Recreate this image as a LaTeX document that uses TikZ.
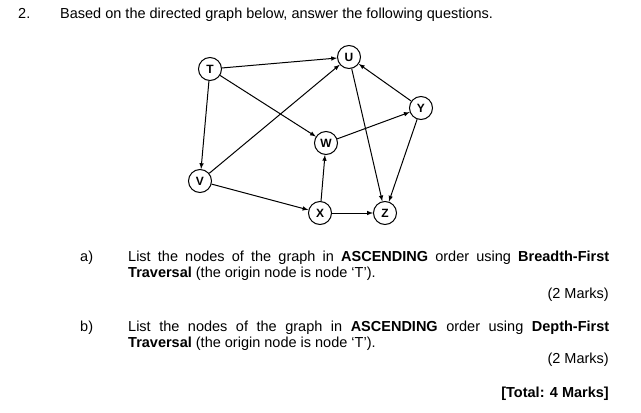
\documentclass[tikz,border=0pt]{standalone}
\usepackage{fontspec}
\setmainfont{Liberation Sans}
\begin{document}
\begin{tikzpicture}[x=1pt,y=-1pt,
 vtx/.style={circle,draw,line width=1pt,minimum size=23pt,inner sep=0pt,font=\fontsize{12}{12}\selectfont\bfseries},
 arr/.style={-latex,line width=1pt},
 txt/.style={anchor=north west,inner sep=0pt,font=\fontsize{14.5}{16}\selectfont},
 para/.style={txt,text width=481pt,align=justify,execute at begin node={\hyphenpenalty=10000\exhyphenpenalty=10000}}]
\useasboundingbox (0,0) rectangle (641,413);
\node[vtx] (T) at (210,69) {T};
\node[vtx] (U) at (349,57) {U};
\node[vtx] (Y) at (421,108) {Y};
\node[vtx] (W) at (326,143) {W};
\node[vtx] (V) at (200,181) {V};
\node[vtx] (X) at (320,213) {X};
\node[vtx] (Z) at (385,213) {Z};
\draw[arr] (T) -- (U);
\draw[arr] (T) -- (W);
\draw[arr] (T) -- (V);
\draw[arr] (V) -- (U);
\draw[arr] (V) -- (X);
\draw[arr] (X) -- (W);
\draw[arr] (X) -- (Z);
\draw[arr] (W) -- (Y);
\draw[arr] (Y) -- (U);
\draw[arr] (Y) -- (Z);
\draw[arr] (U) -- (Z);
\node[txt] (n2) at (18,8) {2.};
\node[txt] (q) at (60,8) {Based on the directed graph below, answer the following questions.};
\node[txt] (la) at (80,251) {a)};
\node[para] (pa) at (128,251) {List the nodes of the graph in \textbf{ASCENDING} order using \textbf{\mbox{Breadth-First}} \textbf{Traversal} (the origin node is node ‘T’).};
\node[txt,anchor=north east] (ma) at (609,288) {(2 Marks)};
\node[txt] (lb) at (80,321) {b)};
\node[para] (pb) at (128,321) {List the nodes of the graph in \textbf{ASCENDING} order using \textbf{\mbox{Depth-First}} \textbf{Traversal} (the origin node is node ‘T’).};
\node[txt,anchor=north east] (mb) at (609,353) {(2 Marks)};
\node[txt,anchor=north east,font=\fontsize{14.5}{16}\selectfont\bfseries] (tot) at (609,387) {[Total: 4 Marks]};
\end{tikzpicture}
\end{document}
